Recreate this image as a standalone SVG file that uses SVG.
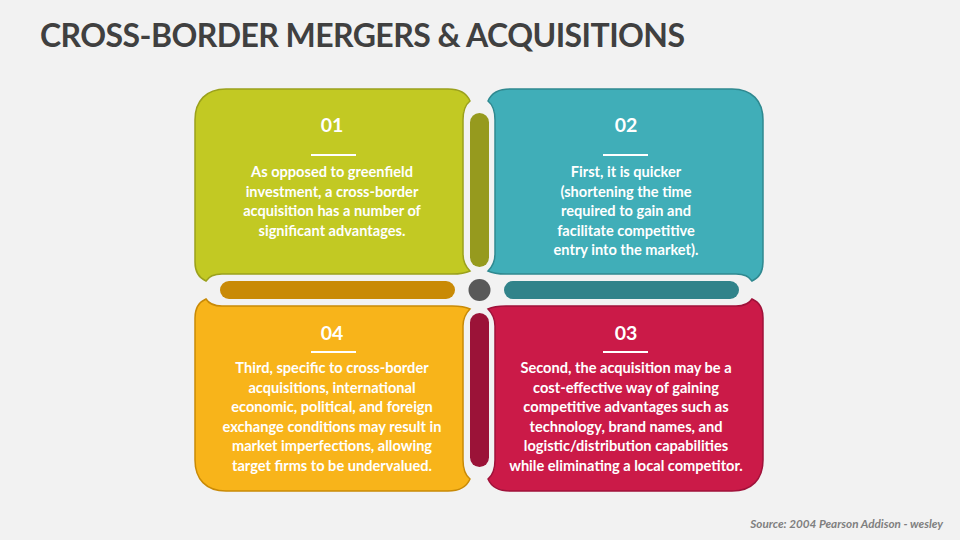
<svg xmlns="http://www.w3.org/2000/svg" xmlns:xlink="http://www.w3.org/1999/xlink" width="960" height="540" viewBox="0 0 960 540">
  <style>
    .title{font-family:Lato,"Open Sans","Liberation Sans",sans-serif;font-weight:700;font-size:32px;fill:#404040}
    .num{font-family:Lato,"Liberation Sans",sans-serif;font-weight:700;font-size:19.5px;fill:#ffffff;text-anchor:middle}
    .body{font-family:Lato,"Liberation Sans",sans-serif;font-weight:700;font-size:14.6px;fill:#ffffff;text-anchor:middle}
    .src{font-family:Lato,"Liberation Sans",sans-serif;font-weight:700;font-style:italic;font-size:11.7px;fill:#7f7f7f;text-anchor:end}
    .rule{stroke:#ffffff;stroke-width:2}
    .q{stroke-width:1.5}
  </style>
  <defs>
    <path id="quad" d="M 226,89 L 448,89 C 460,89 467,94 470,101 C 465,105 463,111 463,120 L 463,254 C 463,262 466,267 470,271 C 466,273 460,274 452,274 L 222,274 C 214,274 209,276 206,281 C 199,278 195,272 195,262 L 195,120 C 195,101 206,89 226,89 Z"/>
  </defs>
  <rect width="960" height="540" fill="#f2f2f2"/>
  <text class="title" x="40" y="47" textLength="645">CROSS-BORDER MERGERS &amp; ACQUISITIONS</text>

  <g id="connectors">
    <rect x="470" y="113" width="19" height="154" rx="9.5" fill="#969a1e"/>
    <rect x="470" y="313" width="19" height="154" rx="9.5" fill="#9b1338"/>
    <rect x="220" y="281" width="235" height="18" rx="9" fill="#c98a06"/>
    <rect x="504" y="281" width="235" height="18" rx="9" fill="#31838a"/>
    <circle cx="479.5" cy="290" r="11" fill="#595959"/>
  </g>

  <g id="node-01">
    <use xlink:href="#quad" class="q" fill="#c2c923" stroke="#9ba11c"/>
    <text class="num" x="332" y="132">01</text>
    <line class="rule" x1="311" y1="155" x2="356" y2="155"/>
    <text class="body" x="332" y="177">As opposed to greenfield</text>
    <text class="body" x="332" y="196.5">investment, a cross-border</text>
    <text class="body" x="332" y="216">acquisition has a number of</text>
    <text class="body" x="332" y="235.5">significant advantages.</text>
  </g>

  <g id="node-02">
    <use xlink:href="#quad" class="q" fill="#40aeb8" stroke="#2f8990" transform="translate(958,0) scale(-1,1)"/>
    <text class="num" x="626" y="132">02</text>
    <line class="rule" x1="603" y1="155" x2="648" y2="155"/>
    <text class="body" x="626" y="177">First, it is quicker</text>
    <text class="body" x="626" y="196.5">(shortening the time</text>
    <text class="body" x="626" y="216">required to gain and</text>
    <text class="body" x="626" y="235.5">facilitate competitive</text>
    <text class="body" x="626" y="255">entry into the market).</text>
  </g>

  <g id="node-03">
    <use xlink:href="#quad" class="q" fill="#cb1a48" stroke="#a0123a" transform="translate(958,580) scale(-1,-1)"/>
    <text class="num" x="626" y="340">03</text>
    <line class="rule" x1="603" y1="352" x2="648" y2="352"/>
    <text class="body" x="626" y="373">Second, the acquisition may be a</text>
    <text class="body" x="626" y="392.5">cost-effective way of gaining</text>
    <text class="body" x="626" y="412">competitive advantages such as</text>
    <text class="body" x="626" y="431.5">technology, brand names, and</text>
    <text class="body" x="626" y="451">logistic/distribution capabilities</text>
    <text class="body" x="626" y="470.5">while eliminating a local competitor.</text>
  </g>

  <g id="node-04">
    <use xlink:href="#quad" class="q" fill="#f8b41a" stroke="#c98a06" transform="translate(0,580) scale(1,-1)"/>
    <text class="num" x="332" y="340">04</text>
    <line class="rule" x1="311" y1="352" x2="356" y2="352"/>
    <text class="body" x="332" y="373">Third, specific to cross-border</text>
    <text class="body" x="332" y="392.5">acquisitions, international</text>
    <text class="body" x="332" y="412">economic, political, and foreign</text>
    <text class="body" x="332" y="431.5">exchange conditions may result in</text>
    <text class="body" x="332" y="451">market imperfections, allowing</text>
    <text class="body" x="332" y="470.5">target firms to be undervalued.</text>
  </g>

  <text class="src" x="943" y="528">Source: 2004 Pearson Addison - wesley</text>
</svg>
